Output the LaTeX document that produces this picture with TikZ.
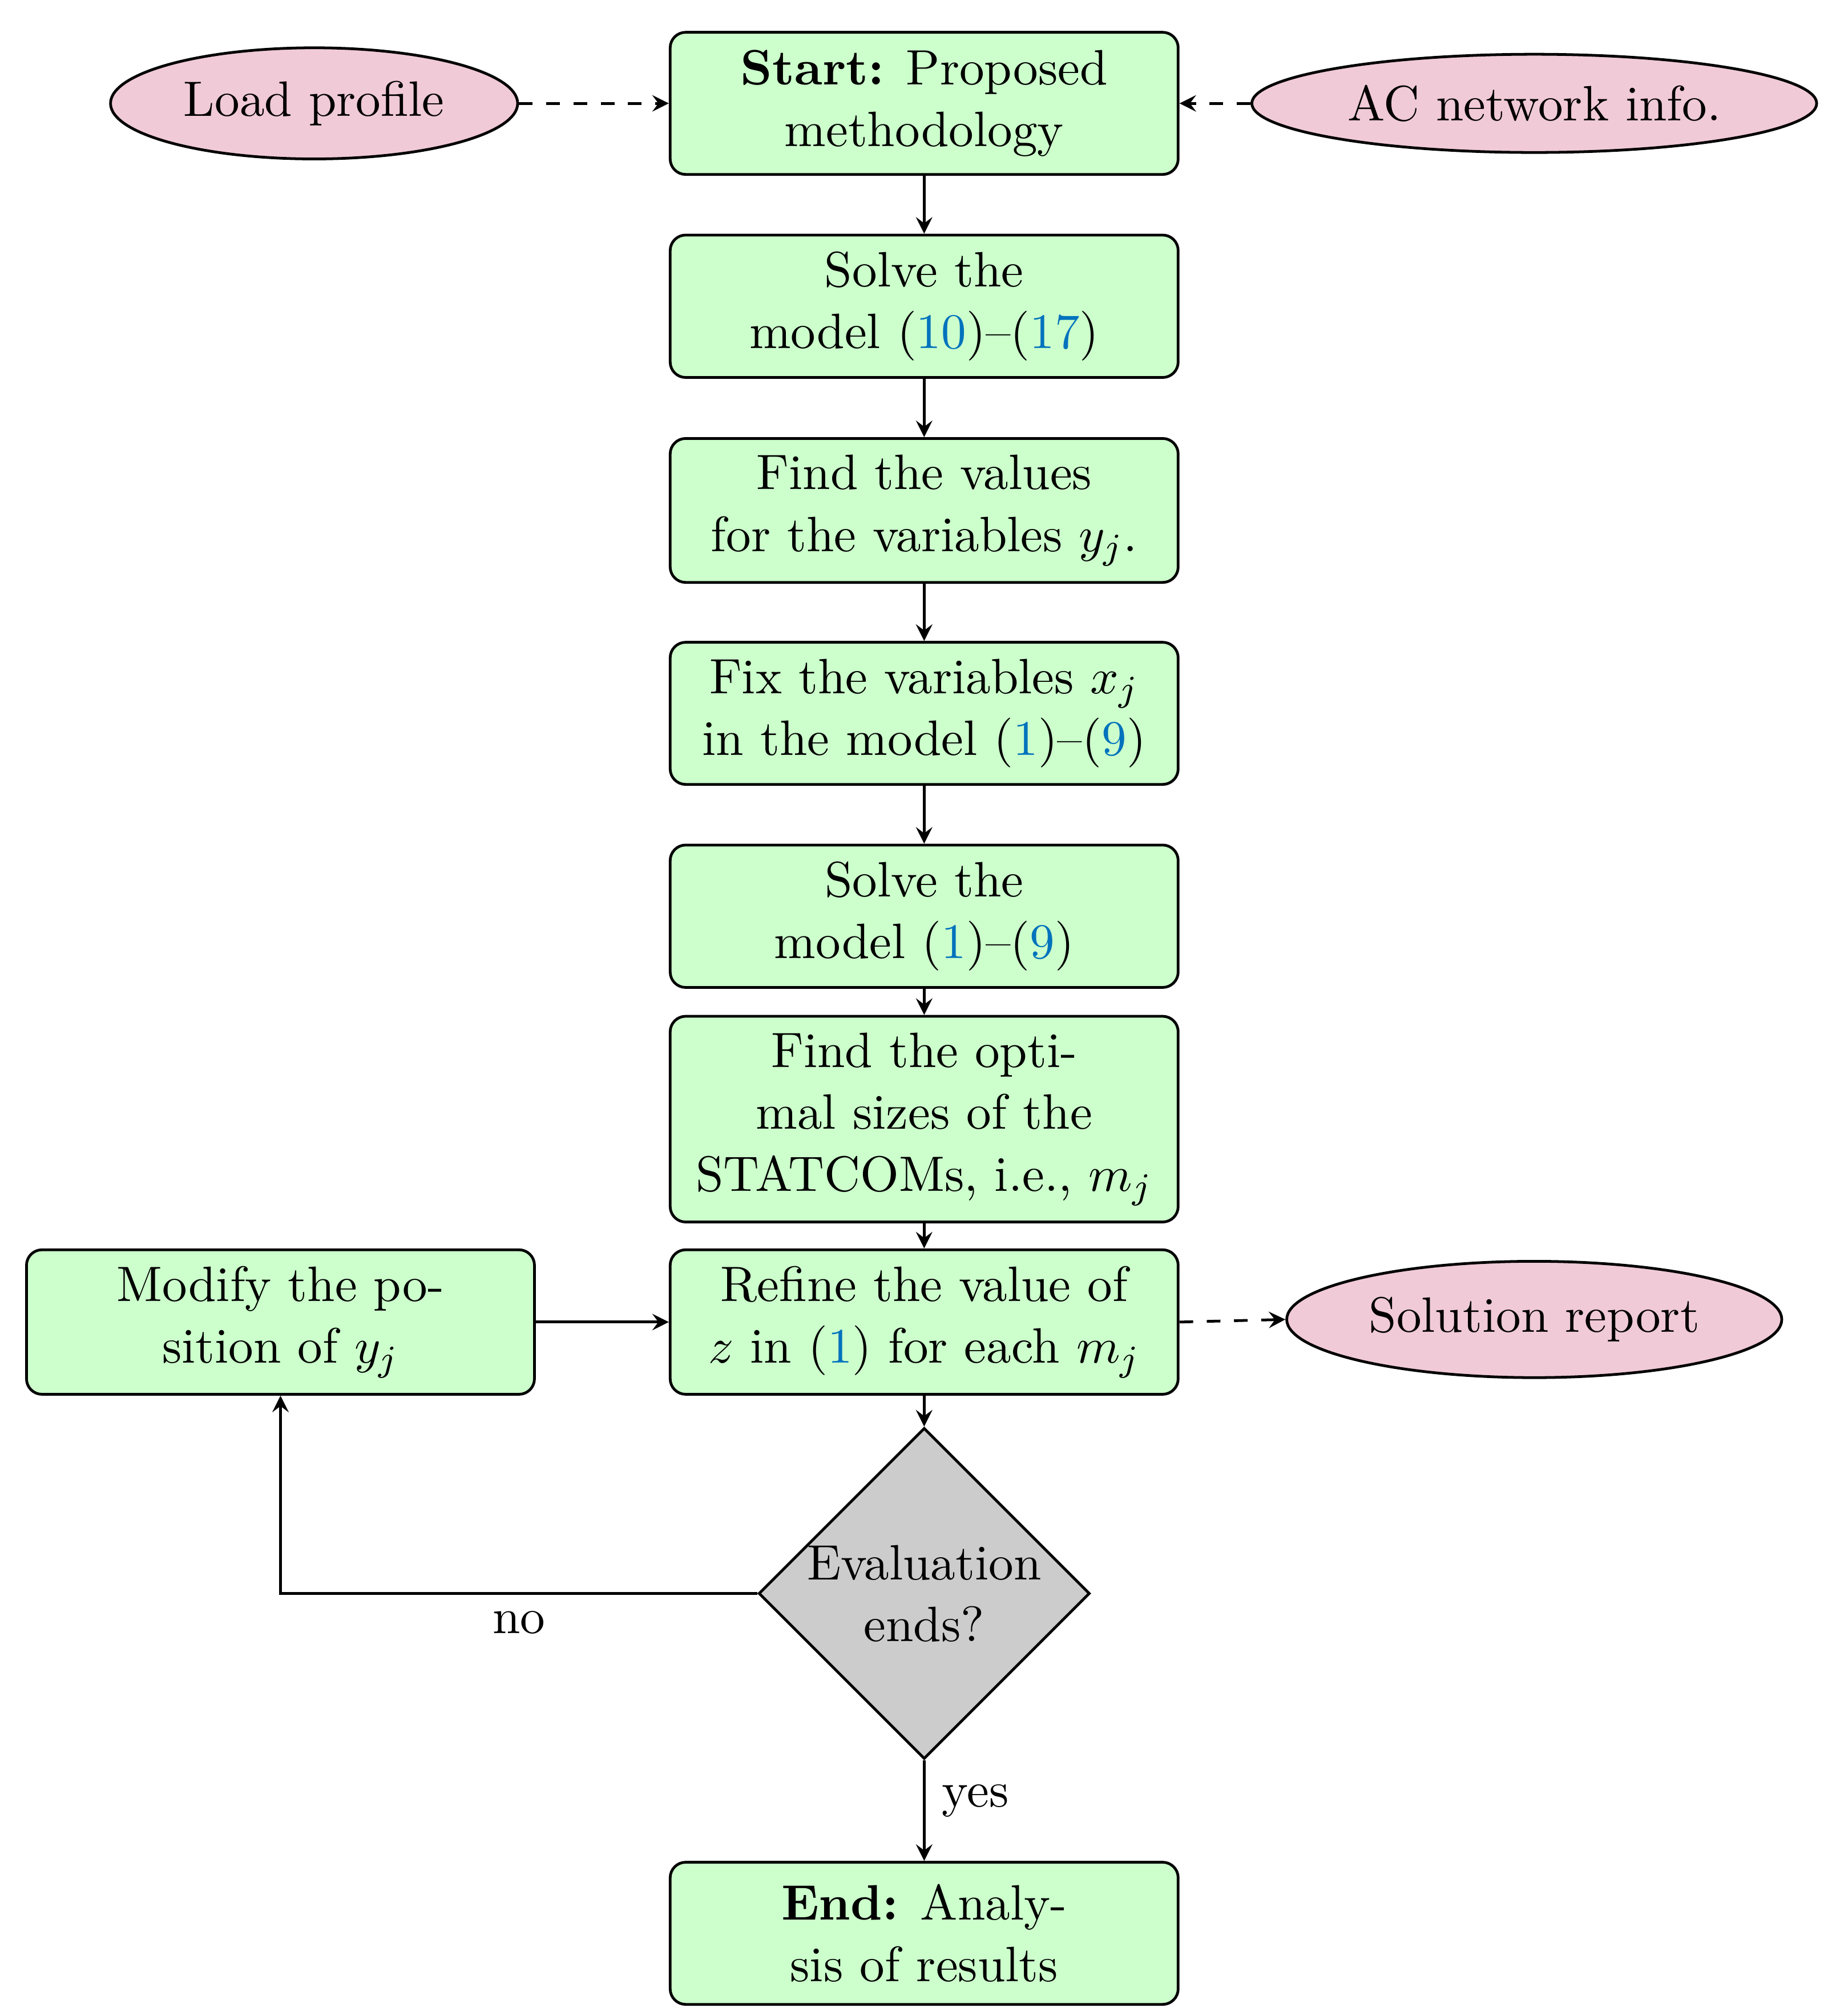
\documentclass[tikz,border=0pt,11pt]{standalone}
\usetikzlibrary{shapes.geometric,arrows}
\definecolor{refblue}{RGB}{0,114,188}
\definecolor{boxgreen}{RGB}{204,255,204}
\definecolor{inpink}{RGB}{240,202,214}
\newcommand{\rf}[1]{\textcolor{refblue}{#1}}
\begin{document}
\begin{tikzpicture}[>=stealth]
\tikzstyle{process} = [rectangle, rounded corners=0.12cm, draw=black, semithick, fill=boxgreen, minimum width=3.93cm, minimum height=1.10cm, text centered, align=center]
\tikzstyle{io}   = [ellipse, draw=black, semithick, fill=inpink, inner sep=0pt]
\tikzstyle{test} = [diamond, draw=black, semithick, fill=black!20, minimum width=2.36cm, minimum height=2.36cm, inner sep=0pt, align=center]
\tikzstyle{flow} = [->, semithick]
\tikzstyle{feed} = [->, semithick, dashed]
\useasboundingbox (0,0) rectangle (14.17,-15.60);
\node[process] at (7.15, -0.80) (s_0) {\textbf{Start:} Proposed\\methodology};
\node[process] at (7.15, -2.37) (s_1) {Solve the\\model (\rf{10})--(\rf{17})};
\node[process] at (7.15, -3.95) (s_2) {Find the values\\for the variables $y_j$.};
\node[process] at (7.15, -5.52) (s_3) {Fix the variables $x_j$\\in the model (\rf{1})--(\rf{9})};
\node[process] at (7.15, -7.09) (s_4) {Solve the\\model (\rf{1})--(\rf{9})};
\node[process, minimum height=1.53cm] at (7.15, -8.66) (s_5) {Find the opti-\\mal sizes of the\\STATCOMs, i.e., $m_j$};
\node[process] at (7.15, -10.23) (s_6) {Refine the value of\\$z$ in (\rf{1}) for each $m_j$};
\node[process] at (2.17, -10.23) (s_7) {Modify the po-\\sition of $y_j$};
\node[test] at (7.15, -12.33) (t_0) {Evaluation\\ends?};
\node[process] at (7.15, -14.96) (s_8) {\textbf{End:} Analy-\\sis of results};
\node[io, minimum width=3.15cm, minimum height=0.86cm] at (2.43, -0.80) (i_0) {Load profile};
\node[io, minimum width=4.37cm, minimum height=0.76cm] at (11.87, -0.80) (i_1) {AC network info.};
\node[io, minimum width=3.83cm, minimum height=0.90cm] at (11.87, -10.21) (i_2) {Solution report};
\draw[feed] (i_0.east) -- (s_0.west);
\draw[feed] (i_1.west) -- (s_0.east);
\draw[flow] (s_0) -- (s_1);
\draw[flow] (s_1) -- (s_2);
\draw[flow] (s_2) -- (s_3);
\draw[flow] (s_3) -- (s_4);
\draw[flow] (s_4) -- (s_5);
\draw[flow] (s_5) -- (s_6);
\draw[flow] (s_7) -- (s_6);
\draw[feed] (s_6.east) -- (i_2.west);
\draw[flow] (s_6) -- (t_0);
\draw[flow] (t_0.west) -| (s_7.south) node [pos=0.25, below] () {no};
\draw[flow] (t_0.south) -- (s_8.north) node [pos=0.40, right] () {yes};
\end{tikzpicture}
\end{document}
